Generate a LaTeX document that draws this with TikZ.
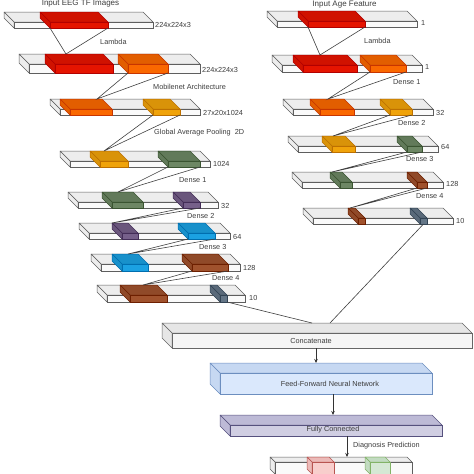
\documentclass[tikz,border=0pt]{standalone}
\usepackage{fontspec}
\setmainfont{Liberation Sans}
\usetikzlibrary{arrows.meta}
\definecolor{barF}{HTML}{FAFAFA}\definecolor{barT}{HTML}{EDEDED}\definecolor{barE}{HTML}{5E5E5E}
\definecolor{redF}{HTML}{E51400}\definecolor{redT}{HTML}{D01200}\definecolor{redE}{HTML}{B20000}
\definecolor{orgF}{HTML}{FA6800}\definecolor{orgT}{HTML}{E25E00}\definecolor{orgE}{HTML}{C73500}
\definecolor{ambF}{HTML}{F0A30A}\definecolor{ambT}{HTML}{D99309}\definecolor{ambE}{HTML}{BD7000}
\definecolor{grnF}{HTML}{6D8764}\definecolor{grnT}{HTML}{627A5A}\definecolor{grnE}{HTML}{3A5431}
\definecolor{purF}{HTML}{76608A}\definecolor{purT}{HTML}{6A567C}\definecolor{purE}{HTML}{432D57}
\definecolor{bluF}{HTML}{1BA1E2}\definecolor{bluT}{HTML}{1891CB}\definecolor{bluE}{HTML}{006EAF}
\definecolor{brnF}{HTML}{A0522D}\definecolor{brnT}{HTML}{904A29}\definecolor{brnE}{HTML}{6D1F00}
\definecolor{sltF}{HTML}{647687}\definecolor{sltT}{HTML}{5A6A7A}\definecolor{sltE}{HTML}{314354}
\definecolor{catF}{HTML}{F5F5F5}\definecolor{catT}{HTML}{E6E6E6}\definecolor{catE}{HTML}{666666}
\definecolor{ffnF}{HTML}{DAE8FC}\definecolor{ffnT}{HTML}{C6D8F2}\definecolor{ffnE}{HTML}{6C8EBF}
\definecolor{fcF}{HTML}{D0CEE2}\definecolor{fcT}{HTML}{BDBAD6}\definecolor{fcE}{HTML}{56517E}
\definecolor{pnkF}{HTML}{F8CECC}\definecolor{pnkT}{HTML}{ECBAB8}\definecolor{pnkE}{HTML}{B85450}
\definecolor{lgrF}{HTML}{D5E8D4}\definecolor{lgrT}{HTML}{C2DBC1}\definecolor{lgrE}{HTML}{82B366}
\definecolor{txt}{HTML}{3C3C3C}
\tikzset{
  conn/.style={draw=black!75, line width=0.6pt},
  lbl/.style={inner sep=0pt, anchor=west, font=\fontsize{7.3}{8}\selectfont, text=txt},
  ttl/.style={inner sep=0pt, font=\fontsize{8}{9}\selectfont, text=txt},
  boxlbl/.style={inner sep=0pt, font=\fontsize{7.3}{8}\selectfont, text=txt},
  arr/.style={draw=black!80, line width=0.6pt, -{Stealth[length=4pt,width=3.5pt]}},
}
% #1 name, #2 x1, #3 x2, #4 ytop, #5 ybottom, #6 depth, #7 front, #8 top, #9 edge
\newcommand\slab[9]{%
  \filldraw[fill=#8,draw=#9,line width=0.5pt,line join=round] (#2,#4) -- (#3,#4) -- ({#3-#6},{#4-#6}) -- ({#2-#6},{#4-#6}) -- cycle;
  \filldraw[fill=#8,draw=#9,line width=0.5pt,line join=round] (#2,#4) -- (#2,#5) -- ({#2-#6},{#5-#6}) -- ({#2-#6},{#4-#6}) -- cycle;
  \filldraw[fill=#7,draw=#9,line width=0.5pt] (#2,#4) rectangle (#3,#5);
  \coordinate (#1-bl) at (#2,#5);
  \coordinate (#1-br) at (#3,#5);
  \coordinate (#1-bc) at ({(#2+#3)/2},#5);
  \coordinate (#1-c) at ({(#2+#3)/2},{(#4+#5)/2});
}
\begin{document}
\begin{tikzpicture}[x=1pt,y=-1pt]
\useasboundingbox (0,0) rectangle (474,474);
% ---------------- left column
\slab{L1}{14}{153}{22}{28}{10}{barF}{barT}{barE}
\slab{L1a}{50}{108}{22}{28}{10}{redF}{redT}{redE}
\slab{L2}{29}{200}{64}{73}{10}{barF}{barT}{barE}
\slab{L2a}{55}{113}{64}{73}{10}{redF}{redT}{redE}
\slab{L2b}{128}{168}{64}{73}{10}{orgF}{orgT}{orgE}
\slab{L3}{60}{200}{109}{115}{10}{barF}{barT}{barE}
\slab{L3a}{70}{112}{109}{115}{10}{orgF}{orgT}{orgE}
\slab{L3b}{153}{180}{109}{115}{10}{ambF}{ambT}{ambE}
\slab{L4}{70}{210}{161}{167}{10}{barF}{barT}{barE}
\slab{L4a}{100}{128}{161}{167}{10}{ambF}{ambT}{ambE}
\slab{L4b}{168}{200}{161}{167}{10}{grnF}{grnT}{grnE}
\slab{L5}{78}{218}{202}{208}{10}{barF}{barT}{barE}
\slab{L5a}{112}{143}{202}{208}{10}{grnF}{grnT}{grnE}
\slab{L5b}{183}{200}{202}{208}{10}{purF}{purT}{purE}
\slab{L6}{89}{230}{233}{239}{10}{barF}{barT}{barE}
\slab{L6a}{122}{138}{233}{239}{10}{purF}{purT}{purE}
\slab{L6b}{188}{215}{233}{239}{10}{bluF}{bluT}{bluE}
\slab{L7}{101}{240}{264}{271}{10}{barF}{barT}{barE}
\slab{L7a}{122}{148}{264}{271}{10}{bluF}{bluT}{bluE}
\slab{L7b}{192}{228}{264}{271}{10}{brnF}{brnT}{brnE}
\slab{L8}{107}{245}{295}{302}{10}{barF}{barT}{barE}
\slab{L8a}{130}{167}{295}{302}{10}{brnF}{brnT}{brnE}
\slab{L8b}{220}{227}{295}{302}{10}{sltF}{sltT}{sltE}
% ---------------- right column
\slab{R1}{277}{417}{21}{27}{10}{barF}{barT}{barE}
\slab{R1a}{308}{365}{21}{27}{10}{redF}{redT}{redE}
\slab{R2}{282}{422}{65}{72}{10}{barF}{barT}{barE}
\slab{R2a}{303}{357}{65}{72}{10}{redF}{redT}{redE}
\slab{R2b}{370}{406}{65}{72}{10}{orgF}{orgT}{orgE}
\slab{R3}{293}{433}{109}{115}{10}{barF}{barT}{barE}
\slab{R3a}{320}{354}{109}{115}{10}{orgF}{orgT}{orgE}
\slab{R3b}{390}{412}{109}{115}{10}{ambF}{ambT}{ambE}
\slab{R4}{298}{438}{146}{152}{10}{barF}{barT}{barE}
\slab{R4a}{332}{355}{146}{152}{10}{ambF}{ambT}{ambE}
\slab{R4b}{407}{422}{146}{152}{10}{grnF}{grnT}{grnE}
\slab{R5}{302}{443}{182}{188}{10}{barF}{barT}{barE}
\slab{R5a}{340}{352}{182}{188}{10}{grnF}{grnT}{grnE}
\slab{R5b}{417}{427}{182}{188}{10}{brnF}{brnT}{brnE}
\slab{R6}{313}{453}{218}{224}{10}{barF}{barT}{barE}
\slab{R6a}{358}{365}{218}{224}{10}{brnF}{brnT}{brnE}
\slab{R6b}{420}{427}{218}{224}{10}{sltF}{sltT}{sltE}
% ---------------- bottom blocks
\slab{CAT}{172}{472}{333}{348}{10}{catF}{catT}{catE}
\slab{FFN}{220}{432}{373}{394}{10}{ffnF}{ffnT}{ffnE}
\slab{FC}{230}{442}{425}{436}{10}{fcF}{fcT}{fcE}
\slab{OUT}{275}{412}{462}{474}{5}{barF}{barT}{barE}
\slab{OUTa}{312}{334}{462}{474}{5}{pnkF}{pnkT}{pnkE}
\slab{OUTb}{370}{390}{462}{474}{5}{lgrF}{lgrT}{lgrE}
% ---------------- connector targets
\coordinate (tL2) at (66,54);
\coordinate (tL3) at (97,99);
\coordinate (tL4) at (104,151);
\coordinate (tL5) at (118,192);
\coordinate (tL6) at (112,223);
\coordinate (tL7) at (128,254);
\coordinate (tL8) at (143,285);
\coordinate (tR2) at (320,55);
\coordinate (tR3) at (328,99);
\coordinate (tR4) at (333,136);
\coordinate (tR5) at (332,172);
\coordinate (tR6) at (350,208);
\coordinate (cL) at (312,323);
\coordinate (cR) at (330,323);
\coordinate (a1s) at (316,348); \coordinate (a1e) at (316,363);
\coordinate (a2s) at (333,394); \coordinate (a2e) at (333,415);
\coordinate (a3s) at (347,436); \coordinate (a3e) at (347,457);
% ---------------- connectors
\draw[conn] (L1a-bl) -- (tL2) -- (L1a-br);
\draw[conn] (L2b-bl) -- (tL3) -- (L2b-br);
\draw[conn] (L3b-bl) -- (tL4) -- (L3b-br);
\draw[conn] (L4b-bl) -- (tL5) -- (L4b-br);
\draw[conn] (L5b-bl) -- (tL6) -- (L5b-br);
\draw[conn] (L6b-bl) -- (tL7) -- (L6b-br);
\draw[conn] (L7b-bl) -- (tL8) -- (L7b-br);
\draw[conn] (R1a-bl) -- (tR2) -- (R1a-br);
\draw[conn] (R2b-bl) -- (tR3) -- (R2b-br);
\draw[conn] (R3b-bl) -- (tR4) -- (R3b-br);
\draw[conn] (R4b-bl) -- (tR5) -- (R4b-br);
\draw[conn] (R5b-bl) -- (tR6) -- (R5b-br);
\draw[conn] (L8b-br) -- (cL);
\draw[conn] (R6b-bc) -- (cR);
\draw[arr] (a1s) -- (a1e);
\draw[arr] (a2s) -- (a2e);
\draw[arr] (a3s) -- (a3e);
% ---------------- texts
\node[ttl] (title-l) at (80.5,4) {Input EEG TF Images};
\node[ttl] (title-r) at (344.5,5) {Input Age Feature};
\node[lbl] (n-l1) at (100,42) {Lambda};
\node[lbl] (n-l2) at (153,87) {Mobilenet Architecture};
\node[lbl] (n-l3) at (154,133) {Global Average Pooling~~2D};
\node[lbl] (n-l4) at (179,180) {Dense 1};
\node[lbl] (n-l5) at (187,216) {Dense 2};
\node[lbl] (n-l6) at (199,247) {Dense 3};
\node[lbl] (n-l7) at (212,278) {Dense 4};
\node[lbl] (n-r1) at (364,41) {Lambda};
\node[lbl] (n-r2) at (393,82) {Dense 1};
\node[lbl] (n-r3) at (398,123) {Dense 2};
\node[lbl] (n-r4) at (406,159) {Dense 3};
\node[lbl] (n-r5) at (416,196) {Dense 4};
\node[lbl] (s-l1) at (155,25) {224x224x3};
\node[lbl] (s-l2) at (202,70) {224x224x3};
\node[lbl] (s-l3) at (203,113) {27x20x1024};
\node[lbl] (s-l4) at (213,164) {1024};
\node[lbl] (s-l5) at (221,206) {32};
\node[lbl] (s-l6) at (233,237) {64};
\node[lbl] (s-l7) at (243,268) {128};
\node[lbl] (s-l8) at (249,298) {10};
\node[lbl] (s-r1) at (421,23) {1};
\node[lbl] (s-r2) at (425,67) {1};
\node[lbl] (s-r3) at (436,113) {32};
\node[lbl] (s-r4) at (441,147) {64};
\node[lbl] (s-r5) at (446,184) {128};
\node[lbl] (s-r6) at (456,221) {10};
\node[boxlbl] (t-cat) at (311,341) {Concatenate};
\node[boxlbl] (t-ffn) at (330,384) {Feed-Forward Neural Network};
\node[boxlbl] (t-fc) at (333,430) {Fully Connected};
\node[lbl] (t-dp) at (353,446) {Diagnosis Prediction};
\end{tikzpicture}
\end{document}
